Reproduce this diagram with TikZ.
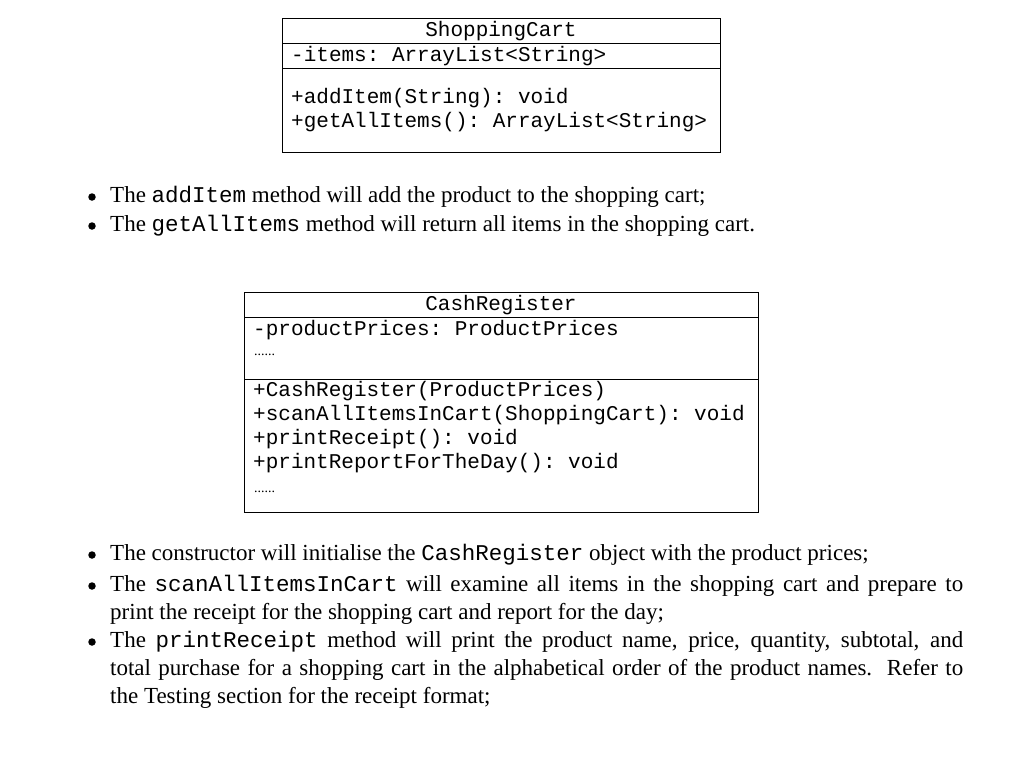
\documentclass[tikz,border=0pt]{standalone}
\usepackage{fontspec}
\setmainfont{Liberation Serif}
\setmonofont{Liberation Mono}
\newcommand{\cd}[1]{{\fontsize{22.5}{24}\selectfont\ttfamily #1}}
\newcommand{\fl}[1]{\hbox to 853pt{#1}}
\tikzset{
  box/.style={draw, line width=0.9},
  mono/.style={anchor=west, inner sep=0, font=\fontsize{21}{24}\selectfont\ttfamily},
  dots/.style={anchor=west, inner sep=0, font=\fontsize{14}{16}\selectfont},
  bul/.style={circle, fill, inner sep=0, minimum size=7.5},
  ll/.style={anchor=west, inner sep=0, font=\fontsize{23}{24}\selectfont}
}
\begin{document}
\begin{tikzpicture}[x=1pt,y=-1pt]
\useasboundingbox (0,0) rectangle (1024,756);
% ShoppingCart
\draw[box] (282,18) rectangle (720,152);
\draw[box] (282,43) -- (720,43);
\draw[box] (282,68) -- (720,68);
\node[mono, anchor=center] (sct) at (501,31) {ShoppingCart};
\node[mono] (sc1) at (291,56) {-items: ArrayList<String>};
\node[mono] (sc2) at (291,98) {+addItem(String): void};
\node[mono] (sc3) at (291,122) {+getAllItems(): ArrayList<String>};
% bullets 1
\node[bul] (b1) at (92,197) {};
\node[bul] (b2) at (92,226) {};
\node[ll] (t1) at (110,197) {The \cd{addItem} method will add the product to the shopping cart;};
\node[ll] (t2) at (110,226) {The \cd{getAllItems} method will return all items in the shopping cart.};
% CashRegister
\draw[box] (244,292) rectangle (758,512);
\draw[box] (244,317) -- (758,317);
\draw[box] (244,379) -- (758,379);
\node[mono, anchor=center] (crt) at (501,305) {CashRegister};
\node[mono] (cr1) at (253,330) {-productPrices: ProductPrices};
\node[dots] (cr2) at (254,355) {......};
\node[mono] (cr3) at (253,391) {+CashRegister(ProductPrices)};
\node[mono] (cr4) at (253,415) {+scanAllItemsInCart(ShoppingCart): void};
\node[mono] (cr5) at (253,439) {+printReceipt(): void};
\node[mono] (cr6) at (253,463) {+printReportForTheDay(): void};
\node[dots] (cr7) at (254,492) {......};
% bullets 2
\node[bul] (b3) at (92,555) {};
\node[bul] (b4) at (92,586) {};
\node[bul] (b5) at (92,642) {};
\node[ll] (u1) at (110,555) {The constructor will initialise the \cd{CashRegister} object with the product prices;};
\node[ll] (u2) at (110,586) {\fl{The \cd{scanAllItemsInCart} will examine all items in the shopping cart and prepare to}};
\node[ll] (u3) at (110,614) {print the receipt for the shopping cart and report for the day;};
\node[ll] (u4) at (110,642) {\fl{The \cd{printReceipt} method will print the product name, price, quantity, subtotal, and}};
\node[ll] (u5) at (110,670) {\fl{total purchase for a shopping cart in the alphabetical order of the product names.\ \ Refer to}};
\node[ll] (u6) at (110,698) {the Testing section for the receipt format;};
\end{tikzpicture}
\end{document}
